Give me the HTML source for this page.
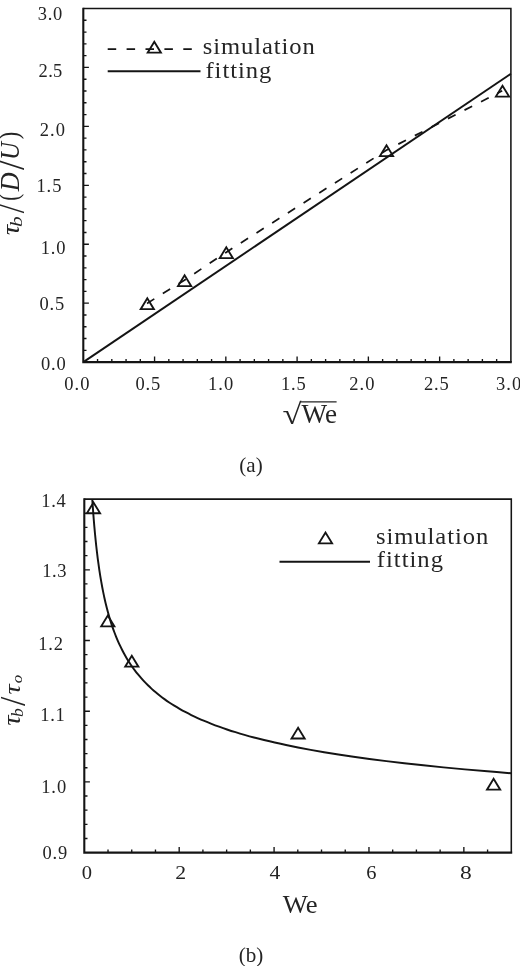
<!DOCTYPE html>
<html lang="en">
<head>
<meta charset="utf-8">
<title>Figure: bubble time versus Weber number</title>
<style>
html,body{margin:0;padding:0;background:#fff;}
body{width:520px;height:966px;overflow:hidden;}
svg{display:block;}
svg text{font-family:"Liberation Serif","DejaVu Serif",serif;fill:#242424;}
</style>
</head>
<body>
<svg width="520" height="966" viewBox="0 0 520 966">
<rect x="0" y="0" width="520" height="966" fill="#ffffff"/>
<g id="plot-a">
<path d="M83.30,8.50 H510.90 V362.10" fill="none" stroke="#141414" stroke-width="1.55"/>
<path d="M83.30,7.75 V362.10 H511.80" fill="none" stroke="#141414" stroke-width="2.1" stroke-linejoin="miter"/>
<path d="M97.55,362.10v-3.20 M83.30,350.31h3.20 M111.81,362.10v-3.20 M83.30,338.53h3.20 M126.06,362.10v-3.20 M83.30,326.74h3.20 M140.31,362.10v-3.20 M83.30,314.95h3.20 M154.57,362.10v-5.60 M83.30,303.17h5.60 M168.82,362.10v-3.20 M83.30,291.38h3.20 M183.07,362.10v-3.20 M83.30,279.59h3.20 M197.33,362.10v-3.20 M83.30,267.81h3.20 M211.58,362.10v-3.20 M83.30,256.02h3.20 M225.83,362.10v-5.60 M83.30,244.23h5.60 M240.09,362.10v-3.20 M83.30,232.45h3.20 M254.34,362.10v-3.20 M83.30,220.66h3.20 M268.59,362.10v-3.20 M83.30,208.87h3.20 M282.85,362.10v-3.20 M83.30,197.09h3.20 M297.10,362.10v-5.60 M83.30,185.30h5.60 M311.35,362.10v-3.20 M83.30,173.51h3.20 M325.61,362.10v-3.20 M83.30,161.73h3.20 M339.86,362.10v-3.20 M83.30,149.94h3.20 M354.11,362.10v-3.20 M83.30,138.15h3.20 M368.37,362.10v-5.60 M83.30,126.37h5.60 M382.62,362.10v-3.20 M83.30,114.58h3.20 M396.87,362.10v-3.20 M83.30,102.79h3.20 M411.13,362.10v-3.20 M83.30,91.01h3.20 M425.38,362.10v-3.20 M83.30,79.22h3.20 M439.63,362.10v-5.60 M83.30,67.43h5.60 M453.89,362.10v-3.20 M83.30,55.65h3.20 M468.14,362.10v-3.20 M83.30,43.86h3.20 M482.39,362.10v-3.20 M83.30,32.07h3.20 M496.65,362.10v-3.20 M83.30,20.29h3.20" fill="none" stroke="#141414" stroke-width="1.35"/>
<line x1="83.30" y1="362.10" x2="510.90" y2="73.8" stroke="#141414" stroke-width="1.95"/>
<polyline points="147.0,303.4 184.3,280.3 226.0,252.4 386.2,150.3 502.2,90.8" fill="none" stroke="#141414" stroke-width="1.75" stroke-dasharray="8.6 10"/>
<polygon points="140.70,309.15 153.90,309.15 147.30,298.35" fill="none" stroke="#141414" stroke-width="1.85" stroke-linejoin="miter"/>
<polygon points="178.00,286.05 191.20,286.05 184.60,275.25" fill="none" stroke="#141414" stroke-width="1.85" stroke-linejoin="miter"/>
<polygon points="219.70,258.15 232.90,258.15 226.30,247.35" fill="none" stroke="#141414" stroke-width="1.85" stroke-linejoin="miter"/>
<polygon points="379.90,156.05 393.10,156.05 386.50,145.25" fill="none" stroke="#141414" stroke-width="1.85" stroke-linejoin="miter"/>
<polygon points="495.90,96.55 509.10,96.55 502.50,85.75" fill="none" stroke="#141414" stroke-width="1.85" stroke-linejoin="miter"/>
<line x1="107.7" y1="49.0" x2="193" y2="49.0" stroke="#141414" stroke-width="1.75" stroke-dasharray="8.5 10.4"/>
<polygon points="147.70,52.65 160.90,52.65 154.30,41.85" fill="none" stroke="#141414" stroke-width="1.85" stroke-linejoin="miter"/>
<line x1="107.7" y1="71.2" x2="200.5" y2="71.2" stroke="#141414" stroke-width="1.95"/>
<text transform="translate(202.77,54.30) scale(1.0700,1)" font-size="23.0" letter-spacing="0.850">simulation</text>
<text transform="translate(205.51,77.50) scale(1.0700,1)" font-size="23.0" letter-spacing="0.866">fitting</text>
<text transform="translate(64.31,389.50) scale(1.0400,1)" font-size="17.8" letter-spacing="0.961">0.0</text>
<text transform="translate(135.56,389.50) scale(1.0400,1)" font-size="17.8" letter-spacing="0.743">0.5</text>
<text transform="translate(207.88,389.50) scale(1.0400,1)" font-size="17.8" letter-spacing="1.045">1.0</text>
<text transform="translate(280.88,389.50) scale(1.0400,1)" font-size="17.8" letter-spacing="0.827">1.5</text>
<text transform="translate(349.21,389.50) scale(1.0400,1)" font-size="17.8" letter-spacing="1.005">2.0</text>
<text transform="translate(424.11,389.50) scale(1.0400,1)" font-size="17.8" letter-spacing="0.715">2.5</text>
<text transform="translate(496.12,389.50) scale(1.0400,1)" font-size="17.8" letter-spacing="0.930">3.0</text>
<text transform="translate(37.82,20.00) scale(1.0400,1)" font-size="17.8" letter-spacing="0.641">3.0</text>
<text transform="translate(38.61,76.50) scale(1.0400,1)" font-size="17.8" letter-spacing="0.282">2.5</text>
<text transform="translate(39.81,135.80) scale(1.0400,1)" font-size="17.8" letter-spacing="0.981">2.0</text>
<text transform="translate(36.38,192.30) scale(1.0400,1)" font-size="17.8" letter-spacing="0.923">1.5</text>
<text transform="translate(40.68,253.60) scale(1.0400,1)" font-size="17.8" letter-spacing="0.805">1.0</text>
<text transform="translate(39.41,310.10) scale(1.0400,1)" font-size="17.8" letter-spacing="0.863">0.5</text>
<text transform="translate(40.91,369.50) scale(1.0400,1)" font-size="17.8" letter-spacing="0.792">0.0</text>
<text transform="translate(301.50,423.41) scale(1.0331,1)" font-size="26.27">We</text>
<text transform="translate(282.43,424.48) scale(1.1806,1)" font-size="29.34">√</text>
<line x1="300.6" y1="401.8" x2="336.6" y2="401.8" stroke="#242424" stroke-width="1.2"/>
<text transform="translate(239.30,471.88) scale(0.9909,1)" font-size="21.27">(a)</text>
<text transform="translate(19.26,235.32) rotate(-90) scale(1.1800,1)" font-size="24.47" font-style="italic">τ</text>
<text transform="translate(21.73,227.11) rotate(-90) scale(1.2957,1)" font-size="16.60" font-style="italic">b</text>
<text transform="translate(23.54,213.20) rotate(-90) scale(0.8979,1)" font-size="36.12">/</text>
<text transform="translate(18.12,200.77) rotate(-90) scale(0.7562,1)" font-size="27.22">(</text>
<text transform="translate(19.23,191.37) rotate(-90) scale(0.9483,1)" font-size="27.68" font-style="italic">D</text>
<text transform="translate(23.54,169.90) rotate(-90) scale(0.9378,1)" font-size="36.12">/</text>
<text transform="translate(19.22,159.90) rotate(-90) scale(0.8969,1)" font-size="27.67" font-style="italic">U</text>
<text transform="translate(18.12,139.13) rotate(-90) scale(0.8276,1)" font-size="27.22">)</text>
</g>
<g id="plot-b">
<path d="M84.30,499.10 H511.30 V852.60" fill="none" stroke="#141414" stroke-width="1.55"/>
<path d="M84.30,498.35 V852.60 H512.20" fill="none" stroke="#141414" stroke-width="2.1" stroke-linejoin="miter"/>
<path d="M108.02,852.60v-3.20 M131.74,852.60v-3.20 M155.47,852.60v-3.20 M179.19,852.60v-5.60 M202.91,852.60v-3.20 M226.63,852.60v-3.20 M250.36,852.60v-3.20 M274.08,852.60v-5.60 M297.80,852.60v-3.20 M321.52,852.60v-3.20 M345.24,852.60v-3.20 M368.97,852.60v-5.60 M392.69,852.60v-3.20 M416.41,852.60v-3.20 M440.13,852.60v-3.20 M463.86,852.60v-5.60 M487.58,852.60v-3.20 M84.30,838.46h3.20 M84.30,824.32h3.20 M84.30,810.18h3.20 M84.30,796.04h3.20 M84.30,781.90h5.60 M84.30,767.76h3.20 M84.30,753.62h3.20 M84.30,739.48h3.20 M84.30,725.34h3.20 M84.30,711.20h5.60 M84.30,697.06h3.20 M84.30,682.92h3.20 M84.30,668.78h3.20 M84.30,654.64h3.20 M84.30,640.50h5.60 M84.30,626.36h3.20 M84.30,612.22h3.20 M84.30,598.08h3.20 M84.30,583.94h3.20 M84.30,569.80h5.60 M84.30,555.66h3.20 M84.30,541.52h3.20 M84.30,527.38h3.20 M84.30,513.24h3.20" fill="none" stroke="#141414" stroke-width="1.35"/>
<path d="M92.28,499.10 C92.36,500.28 92.59,503.85 92.75,506.19 C92.92,508.53 93.08,510.85 93.25,513.14 C93.43,515.44 93.60,517.71 93.79,519.96 C93.97,522.22 94.16,524.45 94.35,526.66 C94.54,528.87 94.74,531.05 94.95,533.22 C95.15,535.39 95.36,537.54 95.58,539.66 C95.80,541.79 96.02,543.90 96.25,545.98 C96.48,548.07 96.71,550.14 96.96,552.18 C97.20,554.23 97.45,556.26 97.71,558.26 C97.97,560.27 98.23,562.26 98.51,564.23 C98.78,566.20 99.06,568.15 99.35,570.09 C99.64,572.02 99.94,573.93 100.24,575.83 C100.55,577.72 100.86,579.60 101.19,581.46 C101.51,583.32 101.85,585.17 102.19,586.99 C102.54,588.82 102.89,590.62 103.25,592.41 C103.62,594.20 103.99,595.98 104.38,597.73 C104.77,599.49 105.16,601.23 105.57,602.95 C105.98,604.68 106.40,606.38 106.83,608.07 C107.27,609.76 107.71,611.44 108.17,613.10 C108.63,614.75 109.10,616.40 109.59,618.02 C110.08,619.65 110.58,621.26 111.09,622.86 C111.61,624.46 112.14,626.04 112.68,627.60 C113.23,629.17 113.79,630.72 114.37,632.26 C114.95,633.79 115.54,635.31 116.15,636.82 C116.77,638.33 117.40,639.82 118.04,641.30 C118.69,642.78 119.36,644.24 120.05,645.69 C120.74,647.15 121.44,648.58 122.17,650.00 C122.90,651.43 123.65,652.84 124.42,654.23 C125.19,655.63 125.98,657.01 126.80,658.38 C127.62,659.75 128.46,661.11 129.33,662.45 C130.19,663.80 131.08,665.13 132.00,666.45 C132.92,667.77 133.86,669.07 134.83,670.36 C135.80,671.66 136.80,672.94 137.83,674.21 C138.86,675.48 139.92,676.73 141.01,677.98 C142.10,679.22 143.22,680.46 144.38,681.68 C145.53,682.90 146.72,684.11 147.94,685.31 C149.17,686.50 150.43,687.69 151.72,688.87 C153.02,690.04 154.35,691.21 155.73,692.36 C157.10,693.51 158.51,694.65 159.97,695.79 C161.42,696.92 162.92,698.04 164.46,699.15 C166.00,700.26 167.59,701.36 169.22,702.45 C170.85,703.54 172.53,704.61 174.26,705.68 C175.99,706.75 177.77,707.81 179.60,708.86 C181.44,709.90 183.32,710.94 185.26,711.97 C187.21,713.00 189.20,714.02 191.26,715.03 C193.32,716.03 195.43,717.03 197.61,718.02 C199.79,719.01 202.03,719.99 204.34,720.96 C206.65,721.93 209.02,722.90 211.47,723.85 C213.91,724.80 216.42,725.74 219.02,726.68 C221.61,727.61 224.27,728.54 227.01,729.45 C229.76,730.37 232.58,731.28 235.49,732.18 C238.40,733.08 241.38,733.97 244.47,734.85 C247.55,735.73 250.71,736.61 253.98,737.47 C257.24,738.34 260.59,739.20 264.05,740.04 C267.51,740.89 271.06,741.74 274.72,742.57 C278.39,743.40 282.15,744.23 286.03,745.04 C289.91,745.86 293.90,746.67 298.01,747.47 C302.12,748.27 306.34,749.07 310.70,749.86 C315.05,750.64 319.53,751.42 324.14,752.19 C328.75,752.96 333.49,753.73 338.38,754.49 C343.27,755.24 348.29,755.99 353.47,756.74 C358.65,757.48 363.97,758.21 369.45,758.94 C374.94,759.67 380.57,760.39 386.38,761.11 C392.19,761.82 398.16,762.53 404.32,763.23 C410.48,763.93 416.80,764.63 423.32,765.32 C429.84,766.00 436.54,766.69 443.45,767.36 C450.36,768.04 457.46,768.70 464.78,769.37 C472.10,770.03 479.61,770.69 487.37,771.33 C495.12,771.98 507.31,772.94 511.30,773.27" fill="none" stroke="#141414" stroke-width="1.95"/>
<polygon points="86.90,513.25 100.10,513.25 93.50,502.45" fill="none" stroke="#141414" stroke-width="1.85" stroke-linejoin="miter"/>
<polygon points="101.20,626.35 114.40,626.35 107.80,615.55" fill="none" stroke="#141414" stroke-width="1.85" stroke-linejoin="miter"/>
<polygon points="125.20,666.65 138.40,666.65 131.80,655.85" fill="none" stroke="#141414" stroke-width="1.85" stroke-linejoin="miter"/>
<polygon points="291.50,738.45 304.70,738.45 298.10,727.65" fill="none" stroke="#141414" stroke-width="1.85" stroke-linejoin="miter"/>
<polygon points="487.00,789.65 500.20,789.65 493.60,778.85" fill="none" stroke="#141414" stroke-width="1.85" stroke-linejoin="miter"/>
<polygon points="318.90,543.35 332.10,543.35 325.50,532.55" fill="none" stroke="#141414" stroke-width="1.85" stroke-linejoin="miter"/>
<line x1="279.5" y1="561.75" x2="370" y2="561.75" stroke="#141414" stroke-width="1.95"/>
<text transform="translate(376.02,544.00) scale(1.0700,1)" font-size="23.0" letter-spacing="0.876">simulation</text>
<text transform="translate(376.76,566.80) scale(1.0700,1)" font-size="23.0" letter-spacing="0.944">fitting</text>
<text transform="translate(41.13,507.40) scale(1.0400,1)" font-size="17.8" letter-spacing="0.725">1.4</text>
<text transform="translate(42.18,576.50) scale(1.0400,1)" font-size="17.8" letter-spacing="0.635">1.3</text>
<text transform="translate(38.28,649.70) scale(1.0400,1)" font-size="17.8" letter-spacing="0.720">1.2</text>
<text transform="translate(40.28,721.40) scale(1.0400,1)" font-size="17.8" letter-spacing="0.620">1.1</text>
<text transform="translate(41.13,793.00) scale(1.0400,1)" font-size="17.8" letter-spacing="0.925">1.0</text>
<text transform="translate(42.61,859.40) scale(1.0400,1)" font-size="17.8" letter-spacing="0.719">0.9</text>
<text transform="translate(81.73,879.20) scale(1.1566,1)" font-size="17.8">0</text>
<text transform="translate(175.33,879.20) scale(1.2213,1)" font-size="17.8">2</text>
<text transform="translate(269.57,879.20) scale(1.2082,1)" font-size="17.8">4</text>
<text transform="translate(366.13,879.20) scale(1.1499,1)" font-size="17.8">6</text>
<text transform="translate(460.12,879.20) scale(1.3219,1)" font-size="17.8">8</text>
<text transform="translate(282.80,913.42) scale(1.0510,1)" font-size="25.37">We</text>
<text transform="translate(238.70,961.88) scale(0.9927,1)" font-size="21.27">(b)</text>
<text transform="translate(19.56,725.87) rotate(-90) scale(1.1800,1)" font-size="24.26" font-style="italic">τ</text>
<text transform="translate(23.03,716.95) rotate(-90) scale(1.0449,1)" font-size="16.60" font-style="italic">b</text>
<text transform="translate(24.84,706.00) rotate(-90) scale(0.9240,1)" font-size="36.27">/</text>
<text transform="translate(19.56,694.51) rotate(-90) scale(1.1800,1)" font-size="23.83" font-style="italic">τ</text>
<text transform="translate(22.05,683.20) rotate(-90) scale(1.1532,1)" font-size="14.58" font-style="italic">o</text>
</g>
</svg>
</body>
</html>
